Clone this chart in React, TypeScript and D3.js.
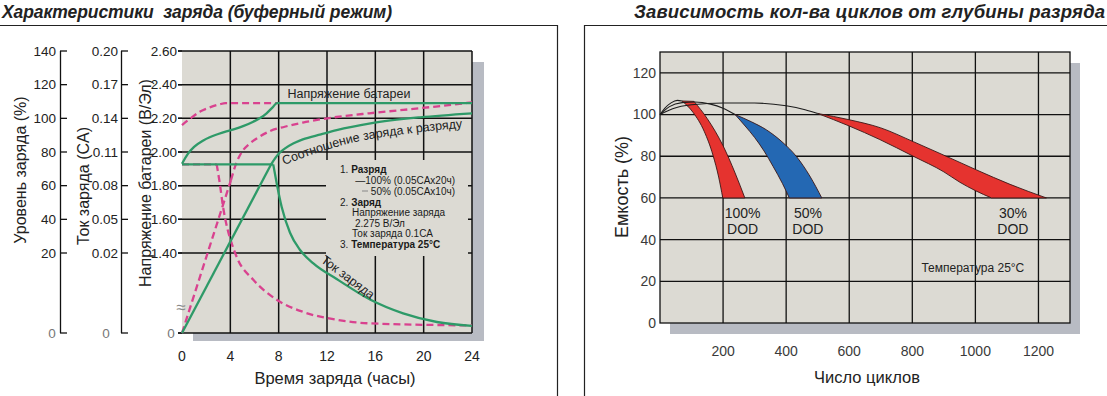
import React, { useEffect, useRef } from 'react';
import * as d3 from 'd3';

type Pt = [number, number];

// left chart: charge characteristics (hours -> value)
const hourTicks = [0, 4, 8, 12, 16, 20, 24];
const voltTicks = [1.4, 1.6, 1.8, 2.0, 2.2, 2.4, 2.6];
const levelTicks = [20, 40, 60, 80, 100, 120, 140];
const currentTicks = [0.02, 0.05, 0.08, 0.11, 0.14, 0.17, 0.2];

// battery voltage, V/cell
const voltage100: Pt[] = [[0, 1.93], [0.5, 1.99], [1, 2.03], [1.8, 2.07], [3, 2.107], [4.1, 2.131], [5, 2.152], [5.9, 2.18], [6.5, 2.203], [7, 2.23], [7.5, 2.265], [7.85, 2.29], [24, 2.29]];
const voltage50: Pt[] = [[0, 2.16], [0.7, 2.2], [1.5, 2.24], [2.3, 2.265], [3.1, 2.283], [3.6, 2.29], [7.9, 2.29]];

// charge / discharge ratio, %
const ratio100Rise: Pt[] = [[0, 0], [7.4, 73]];
const ratio100: Pt[] = [[7.4, 73], [8.0, 79], [8.5, 82], [9.2, 85], [10, 87.5], [11.5, 90.5], [12.8, 93], [15.6, 97], [19.7, 100.6], [24, 103]];
const ratio50Rise: Pt[] = [[0, 0], [4.05, 63.3]];
const ratio50: Pt[] = [[4.05, 63.3], [4.5, 73.5], [5.0, 80.5], [5.6, 85], [6.4, 89], [7.3, 92.5], [8.5, 95], [10, 97.5], [12.8, 100.8], [15.5, 103], [18.3, 105], [21, 107], [24, 109.5]];

// charge current, CA
const current100Flat: Pt[] = [[0, 0.099], [7.55, 0.099]];
const current100: Pt[] = [[7.55, 0.099], [7.84, 0.082], [8.25, 0.061], [8.94, 0.038], [9.77, 0.0227], [10.87, 0.0174], [12.8, 0.0135], [15.6, 0.0083], [18.3, 0.0049], [21.1, 0.00275], [24, 0.0018]];
const current50Flat: Pt[] = [[0, 0.099], [2.87, 0.099]];
const current50: Pt[] = [[2.87, 0.099], [3.1, 0.084], [3.4, 0.061], [3.75, 0.042], [4.1, 0.029], [4.6, 0.0185], [5.9, 0.0133], [7.84, 0.0083], [10, 0.0053], [12.8, 0.0033], [15.6, 0.0024], [24, 0.0019]];

// baseline of the curved "ratio" label (hours, V)
const ratioLabelPath: Pt[] = [[8.44, 1.923], [11.42, 2.0], [14.32, 2.059], [17.22, 2.095], [20.53, 2.125], [23.68, 2.148]];

// right chart: cycles vs capacity
const cycleTicks = [200, 400, 600, 800, 1000, 1200];
const capTicks = [0, 20, 40, 60, 80, 100, 120];

const line100: Pt[] = [[0, 100], [15, 103], [35, 105.6], [55, 106.8], [70, 106.5]];
const band100Left: Pt[] = [[70, 106.5], [105, 101], [140, 92], [168, 80.5], [186, 70], [199, 60]];
const band100Right: Pt[] = [[108, 106.3], [150, 98], [200, 85], [238, 72], [269, 60]];

const line50: Pt[] = [[0, 100], [30, 103.8], [70, 105.7], [110, 106], [160, 105], [200, 103], [238, 100]];
const band50Left: Pt[] = [[238, 100], [270, 94.5], [300, 89], [330, 82.5], [359, 75], [388, 67], [410, 60]];
const band50Right: Pt[] = [[238, 100], [290, 96.5], [338, 92.6], [390, 86.5], [433, 79.8], [475, 70.5], [513, 60]];

const line30: Pt[] = [[0, 100], [40, 102.8], [100, 104.7], [200, 105.5], [300, 105.5], [400, 104.2], [460, 102.3], [500, 100.5]];
const band30Lower: Pt[] = [[500, 100.5], [600, 94.5], [697, 88], [803, 80], [900, 72.5], [951, 67.5], [1000, 63.5], [1051, 60]];
const band30Upper: Pt[] = [[500, 100.5], [600, 97.5], [700, 93.6], [803, 87], [900, 80.5], [1004, 73.4], [1110, 66.5], [1225, 60]];

const dodLabels = [
  { name: '100%', x: 262 },
  { name: '50%', x: 469 },
  { name: '30%', x: 1119 },
];

const font = 'Liberation Sans, Arial, Helvetica, sans-serif';
const plotBg = '#dcdad3';
const shadow = '#b8bbc3';
const green = '#2e9a68';
const pink = '#d9428f';

const App = () => {
  const chartRef = useRef<SVGSVGElement>(null);

  useEffect(() => {
    const svg = d3.select(chartRef.current);
    svg.selectAll('*').remove();
    svg.attr('font-family', font);

    // panel frames
    svg.append('path').attr('d', 'M0,25.5H557.5V396').attr('fill', 'none').attr('stroke', '#222').attr('stroke-width', 1.2);
    svg.append('path').attr('d', 'M584.5,396V25.5H1107').attr('fill', 'none').attr('stroke', '#222').attr('stroke-width', 1.2);

    svg.append('text').attr('x', 2).attr('y', 18)
      .attr('font-size', 17.5).attr('font-weight', 'bold').attr('font-style', 'italic').attr('fill', '#222')
      .attr('textLength', 390).style('white-space', 'pre')
      .text('Характеристики  заряда (буферный режим)');
    svg.append('text').attr('x', 634).attr('y', 18)
      .attr('font-size', 18.5).attr('font-weight', 'bold').attr('font-style', 'italic').attr('fill', '#222')
      .attr('textLength', 471)
      .text('Зависимость кол-ва циклов от глубины разряда');

    // ---------------- left chart ----------------
    const xL = d3.scaleLinear().domain([0, 24]).range([182, 472]);
    const yV = d3.scaleLinear().domain([0, 1.4, 2.6]).range([333, 253, 51]);
    const yLv = d3.scaleLinear().domain([0, 20, 140]).range([333, 253, 51]);
    const yI = d3.scaleLinear().domain([0, 0.02, 0.2]).range([333, 253, 51]);

    const L = svg.append('g');
    L.append('rect').attr('x', xL(0) + 11).attr('y', yV(2.6) + 11)
      .attr('width', xL(24) - xL(0) + 1).attr('height', yV(0) - yV(2.6) - 3).attr('fill', shadow);
    L.append('rect').attr('x', xL(0)).attr('y', yV(2.6))
      .attr('width', xL(24) - xL(0)).attr('height', yV(0) - yV(2.6)).attr('fill', plotBg);

    L.selectAll('.vg').data(hourTicks.filter(h => h > 0)).enter().append('line')
      .attr('x1', d => xL(d)).attr('x2', d => xL(d)).attr('y1', yV(2.6)).attr('y2', yV(0))
      .attr('stroke', '#111').attr('stroke-width', 1.5);
    L.selectAll('.hg').data([0, ...voltTicks]).enter().append('line')
      .attr('x1', xL(0) - 4).attr('x2', xL(24)).attr('y1', d => yV(d)).attr('y2', d => yV(d))
      .attr('stroke', '#111').attr('stroke-width', 1.5);

    // legend box covers the grid
    L.append('rect').attr('x', 326).attr('y', 160).attr('width', 142).attr('height', 96).attr('fill', plotBg);

    const leg = L.append('g').attr('font-size', 10).attr('fill', '#1a1a1a');
    const l1 = leg.append('text').attr('x', 340).attr('y', 173);
    l1.append('tspan').text('1. ');
    l1.append('tspan').attr('font-weight', 'bold').text('Разряд');
    leg.append('text').attr('x', 455).attr('y', 183.5).attr('text-anchor', 'end').text('—100% (0.05CAx20ч)');
    leg.append('line').attr('x1', 362).attr('x2', 368).attr('y1', 191).attr('y2', 191).attr('stroke', '#888').attr('stroke-width', 1);
    leg.append('text').attr('x', 455).attr('y', 194.5).attr('text-anchor', 'end').text('50% (0.05CAx10ч)');
    const l2 = leg.append('text').attr('x', 340).attr('y', 205.5);
    l2.append('tspan').text('2. ');
    l2.append('tspan').attr('font-weight', 'bold').text('Заряд');
    leg.append('text').attr('x', 352).attr('y', 216).text('Напряжение заряда');
    leg.append('text').attr('x', 355).attr('y', 226.5).text('2.275 В/Эл');
    leg.append('text').attr('x', 352).attr('y', 237).text('Ток заряда 0.1CA');
    const l3 = leg.append('text').attr('x', 340).attr('y', 248);
    l3.append('tspan').text('3. ');
    l3.append('tspan').attr('font-weight', 'bold').text('Температура 25°C');

    // axes on the left
    const axis = (x: number, ticks: number[], scale: d3.ScaleLinear<number, number>, fmt: (n: number) => string,
      t1: number, t2: number, labelX: number, zeroX: number, withLine: boolean) => {
      const g = L.append('g');
      if (withLine) {
        g.append('line').attr('x1', x).attr('x2', x).attr('y1', scale(ticks[ticks.length - 1])).attr('y2', scale(0))
          .attr('stroke', '#111').attr('stroke-width', 1.3);
      }
      g.selectAll('.tk').data([0, ...ticks]).enter().append('line')
        .attr('x1', t1).attr('x2', t2).attr('y1', d => scale(d)).attr('y2', d => scale(d))
        .attr('stroke', '#111').attr('stroke-width', 1.3);
      g.selectAll('.lb').data(ticks).enter().append('text')
        .attr('x', labelX).attr('y', d => scale(d)).attr('dy', '0.35em').attr('text-anchor', 'end')
        .attr('font-size', 13.5).attr('fill', '#222').text(d => fmt(d));
      g.append('text').attr('x', zeroX).attr('y', scale(0)).attr('dy', '0.35em').attr('text-anchor', 'middle')
        .attr('font-size', 13.5).attr('fill', '#777').text('0');
    };
    axis(60.5, levelTicks, yLv, d3.format('d'), 60, 67, 56, 52, true);
    axis(121.5, currentTicks, yI, d3.format('.2f'), 121, 128, 118, 106, true);
    axis(182, voltTicks, yV, d3.format('.2f'), 178, 182, 177, 171, false);

    L.append('text').attr('x', 181).attr('y', yV(0) - 26).attr('dy', '0.35em').attr('text-anchor', 'middle')
      .attr('font-size', 17).attr('fill', '#8a8a8a').text('≈');

    L.append('text').attr('transform', 'translate(20,170) rotate(-90)').attr('dy', '0.35em').attr('text-anchor', 'middle')
      .attr('font-size', 16).attr('fill', '#222').text('Уровень заряда (%)');
    L.append('text').attr('transform', 'translate(83,186) rotate(-90)').attr('dy', '0.35em').attr('text-anchor', 'middle')
      .attr('font-size', 16).attr('fill', '#222').text('Ток заряда (CA)');
    L.append('text').attr('transform', 'translate(145,183) rotate(-90)').attr('dy', '0.35em').attr('text-anchor', 'middle')
      .attr('font-size', 16).attr('fill', '#222').text('Напряжение батареи (В/Эл)');

    L.selectAll('.xl').data(hourTicks).enter().append('text')
      .attr('x', d => xL(d)).attr('y', 361).attr('text-anchor', 'middle')
      .attr('font-size', 14).attr('fill', '#222').text(d => d);
    L.append('text').attr('x', 335).attr('y', 384).attr('text-anchor', 'middle')
      .attr('font-size', 16.5).attr('fill', '#222').text('Время заряда (часы)');

    // curves
    const mk = (scale: d3.ScaleLinear<number, number>, smooth: boolean) =>
      d3.line<Pt>().x(d => xL(d[0])).y(d => scale(d[1])).curve(smooth ? d3.curveMonotoneX : d3.curveLinear);
    const draw = (data: Pt[], scale: d3.ScaleLinear<number, number>, smooth: boolean, color: string, dashed: boolean) => {
      L.append('path').attr('d', mk(scale, smooth)(data) as string)
        .attr('fill', 'none').attr('stroke', color).attr('stroke-width', 2.3)
        .attr('stroke-dasharray', dashed ? '7,4' : null).attr('stroke-linejoin', 'round');
    };
    draw(current50Flat, yI, false, pink, true);
    draw(current50, yI, true, pink, true);
    draw(ratio50Rise, yLv, false, pink, true);
    draw(ratio50, yLv, true, pink, true);
    draw(voltage50, yV, true, pink, true);

    draw(current100Flat, yI, false, green, false);
    draw(current100, yI, true, green, false);
    draw(ratio100Rise, yLv, false, green, false);
    draw(ratio100, yLv, true, green, false);
    draw(voltage100, yV, true, green, false);

    // curve labels
    L.append('text').attr('x', 349).attr('y', 98).attr('text-anchor', 'middle')
      .attr('font-size', 12.5).attr('fill', '#222').text('Напряжение батареи');
    const lp = d3.line<Pt>().x(d => xL(d[0])).y(d => yV(d[1])).curve(d3.curveMonotoneX);
    svg.append('defs').append('path').attr('id', 'ratioLabel').attr('d', lp(ratioLabelPath) as string);
    L.append('text').attr('font-size', 12.5).attr('fill', '#222')
      .append('textPath').attr('href', '#ratioLabel').text('Соотношение заряда к разряду');
    L.append('text').attr('transform', 'translate(348,277) rotate(37)').attr('dy', '0.35em').attr('text-anchor', 'middle')
      .attr('font-size', 12.5).attr('fill', '#222').text('Ток заряда');

    // ---------------- right chart ----------------
    const xR = d3.scaleLinear().domain([0, 1300]).range([660, 1070]);
    const yR = d3.scaleLinear().domain([0, 130]).range([323, 52]);
    const R = svg.append('g');

    R.append('rect').attr('x', xR(0) + 10).attr('y', yR(130) + 11)
      .attr('width', xR(1300) - xR(0)).attr('height', yR(0) - yR(130)).attr('fill', shadow);
    R.append('rect').attr('x', xR(0)).attr('y', yR(130))
      .attr('width', xR(1300) - xR(0)).attr('height', yR(0) - yR(130)).attr('fill', plotBg);

    R.selectAll('.vg').data(cycleTicks).enter().append('line')
      .attr('x1', d => xR(d)).attr('x2', d => xR(d)).attr('y1', yR(130)).attr('y2', yR(0))
      .attr('stroke', '#111').attr('stroke-width', 1.3);
    R.selectAll('.hg').data(capTicks.filter(c => c > 0)).enter().append('line')
      .attr('x1', xR(0)).attr('x2', xR(1300)).attr('y1', d => yR(d)).attr('y2', d => yR(d))
      .attr('stroke', '#111').attr('stroke-width', 1.3);
    R.append('rect').attr('x', xR(0)).attr('y', yR(130))
      .attr('width', xR(1300) - xR(0)).attr('height', yR(0) - yR(130))
      .attr('fill', 'none').attr('stroke', '#111').attr('stroke-width', 1.3);

    R.selectAll('.yl').data(capTicks).enter().append('text')
      .attr('x', 656).attr('y', d => yR(d)).attr('dy', '0.35em').attr('text-anchor', 'end')
      .attr('font-size', 14).attr('fill', '#3a3a3a').text(d => d);
    R.selectAll('.xl').data(cycleTicks).enter().append('text')
      .attr('x', d => xR(d)).attr('y', 356).attr('text-anchor', 'middle')
      .attr('font-size', 14).attr('fill', '#3a3a3a').text(d => d);
    R.append('text').attr('x', 867).attr('y', 383).attr('text-anchor', 'middle')
      .attr('font-size', 16.5).attr('fill', '#222').text('Число циклов');
    R.append('text').attr('transform', 'translate(622,187) rotate(-90)').attr('dy', '0.35em').attr('text-anchor', 'middle')
      .attr('font-size', 18).attr('fill', '#222').text('Емкость (%)');

    const lr = d3.line<Pt>().x(d => xR(d[0])).y(d => yR(d[1])).curve(d3.curveMonotoneX);
    const band = (a: Pt[], b: Pt[]) => {
      const p1 = lr(a) as string;
      const p2 = lr([...b].reverse()) as string;
      return p1 + 'L' + p2.slice(1) + 'Z';
    };
    const bands: [Pt[], Pt[], string][] = [
      [band100Left, band100Right, '#e5332f'],
      [band50Left, band50Right, '#2468b3'],
      [band30Lower, band30Upper, '#e5332f'],
    ];
    bands.forEach(([a, b, c]) => {
      R.append('path').attr('d', band(a, b)).attr('fill', c).attr('stroke', '#3a1616').attr('stroke-width', 0.9);
    });
    [line100, line50, line30].forEach(l => {
      R.append('path').attr('d', lr(l) as string).attr('fill', 'none').attr('stroke', '#1c1c1c').attr('stroke-width', 1.1);
    });

    dodLabels.forEach(d => {
      R.append('text').attr('x', xR(d.x)).attr('y', 218).attr('text-anchor', 'middle')
        .attr('font-size', 14).attr('fill', '#222').text(d.name);
      R.append('text').attr('x', xR(d.x)).attr('y', 234).attr('text-anchor', 'middle')
        .attr('font-size', 14).attr('fill', '#222').text('DOD');
    });
    R.append('text').attr('x', xR(992)).attr('y', 271.5).attr('text-anchor', 'middle')
      .attr('font-size', 12).attr('fill', '#222').text('Температура 25°C');
  }, []);

  return (
    <svg ref={chartRef} width={1107} height={396}
      style={{ position: 'absolute', left: 0, top: 0, background: '#fff' }} />
  );
};

export default App;
